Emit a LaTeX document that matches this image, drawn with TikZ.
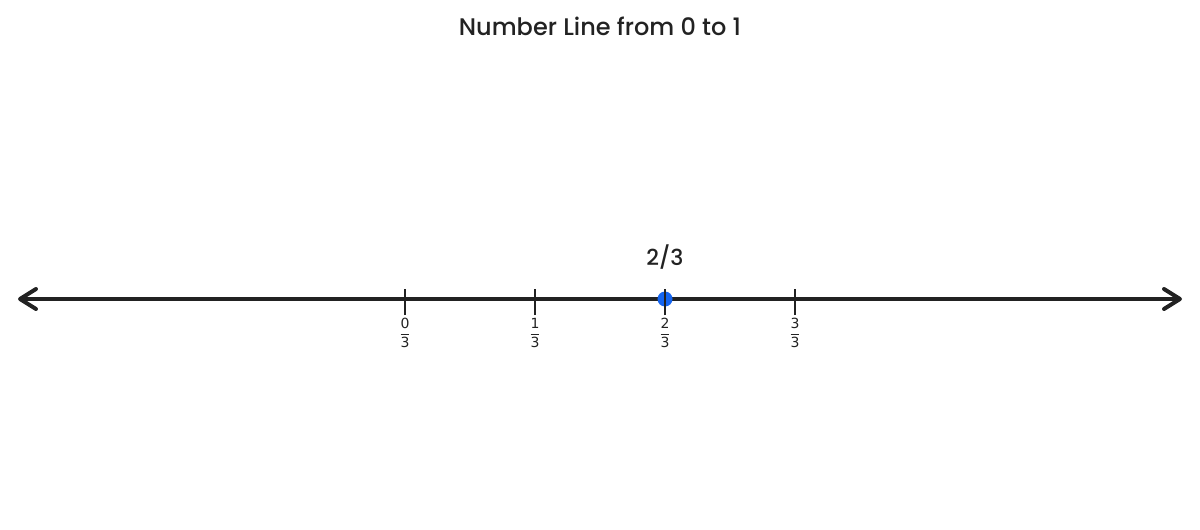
\documentclass[tikz,border=0pt]{standalone}
\usepackage{fontspec}
\setmainfont{Poppins}
\newfontfamily\titlefont{Poppins Medium}
\newfontfamily\fracfont{DejaVu Sans}
\usetikzlibrary{arrows.meta}
\definecolor{inkdark}{HTML}{222222}
\definecolor{dotblue}{HTML}{1565F0}
\tikzset{
  axisline/.style={draw=inkdark, line width=4pt, {Straight Barb[length=16pt,width=20pt,line cap=round,line join=round]}-{Straight Barb[length=16pt,width=20pt,line cap=round,line join=round]}},
  tickmark/.style={draw=inkdark, line width=1.6pt},
  fraclabel/.style={font=\fracfont\fontsize{14}{14}\selectfont, text=inkdark, inner sep=0pt},
  titletext/.style={font=\titlefont\fontsize{24}{28}\selectfont, text=inkdark, inner sep=0pt},
  pointtext/.style={font=\titlefont\fontsize{22}{26}\selectfont, text=inkdark, inner sep=0pt},
  pointdot/.style={circle, fill=dotblue, minimum size=15pt, inner sep=0pt}
}
\begin{document}
\begin{tikzpicture}[x=1pt,y=-1pt]
\useasboundingbox (0,0) rectangle (1200,530);
\node[titletext] (title) at (600,26) {Number Line from 0 to 1};
\coordinate (L) at (18,299);
\coordinate (R) at (1182,299);
\draw[axisline] (L) -- (R);
\foreach \i/\x in {0/405,1/535,2/665,3/795}{
  \coordinate (t\i) at (\x,299);
  \draw[tickmark] ([yshift=-16pt]t\i) -- ([yshift=10pt]t\i);
  \node[fraclabel] (f\i) at (\x,333) {$\displaystyle\frac{\mbox{\fracfont\i}}{\mbox{\fracfont 3}}$};
}
\node[pointdot] (p) at (t2) {};
\draw[tickmark] ([yshift=-16pt]t2) -- ([yshift=10pt]t2);
\node[pointtext] (plabel) at (665,257) {2/3};
\end{tikzpicture}
\end{document}
